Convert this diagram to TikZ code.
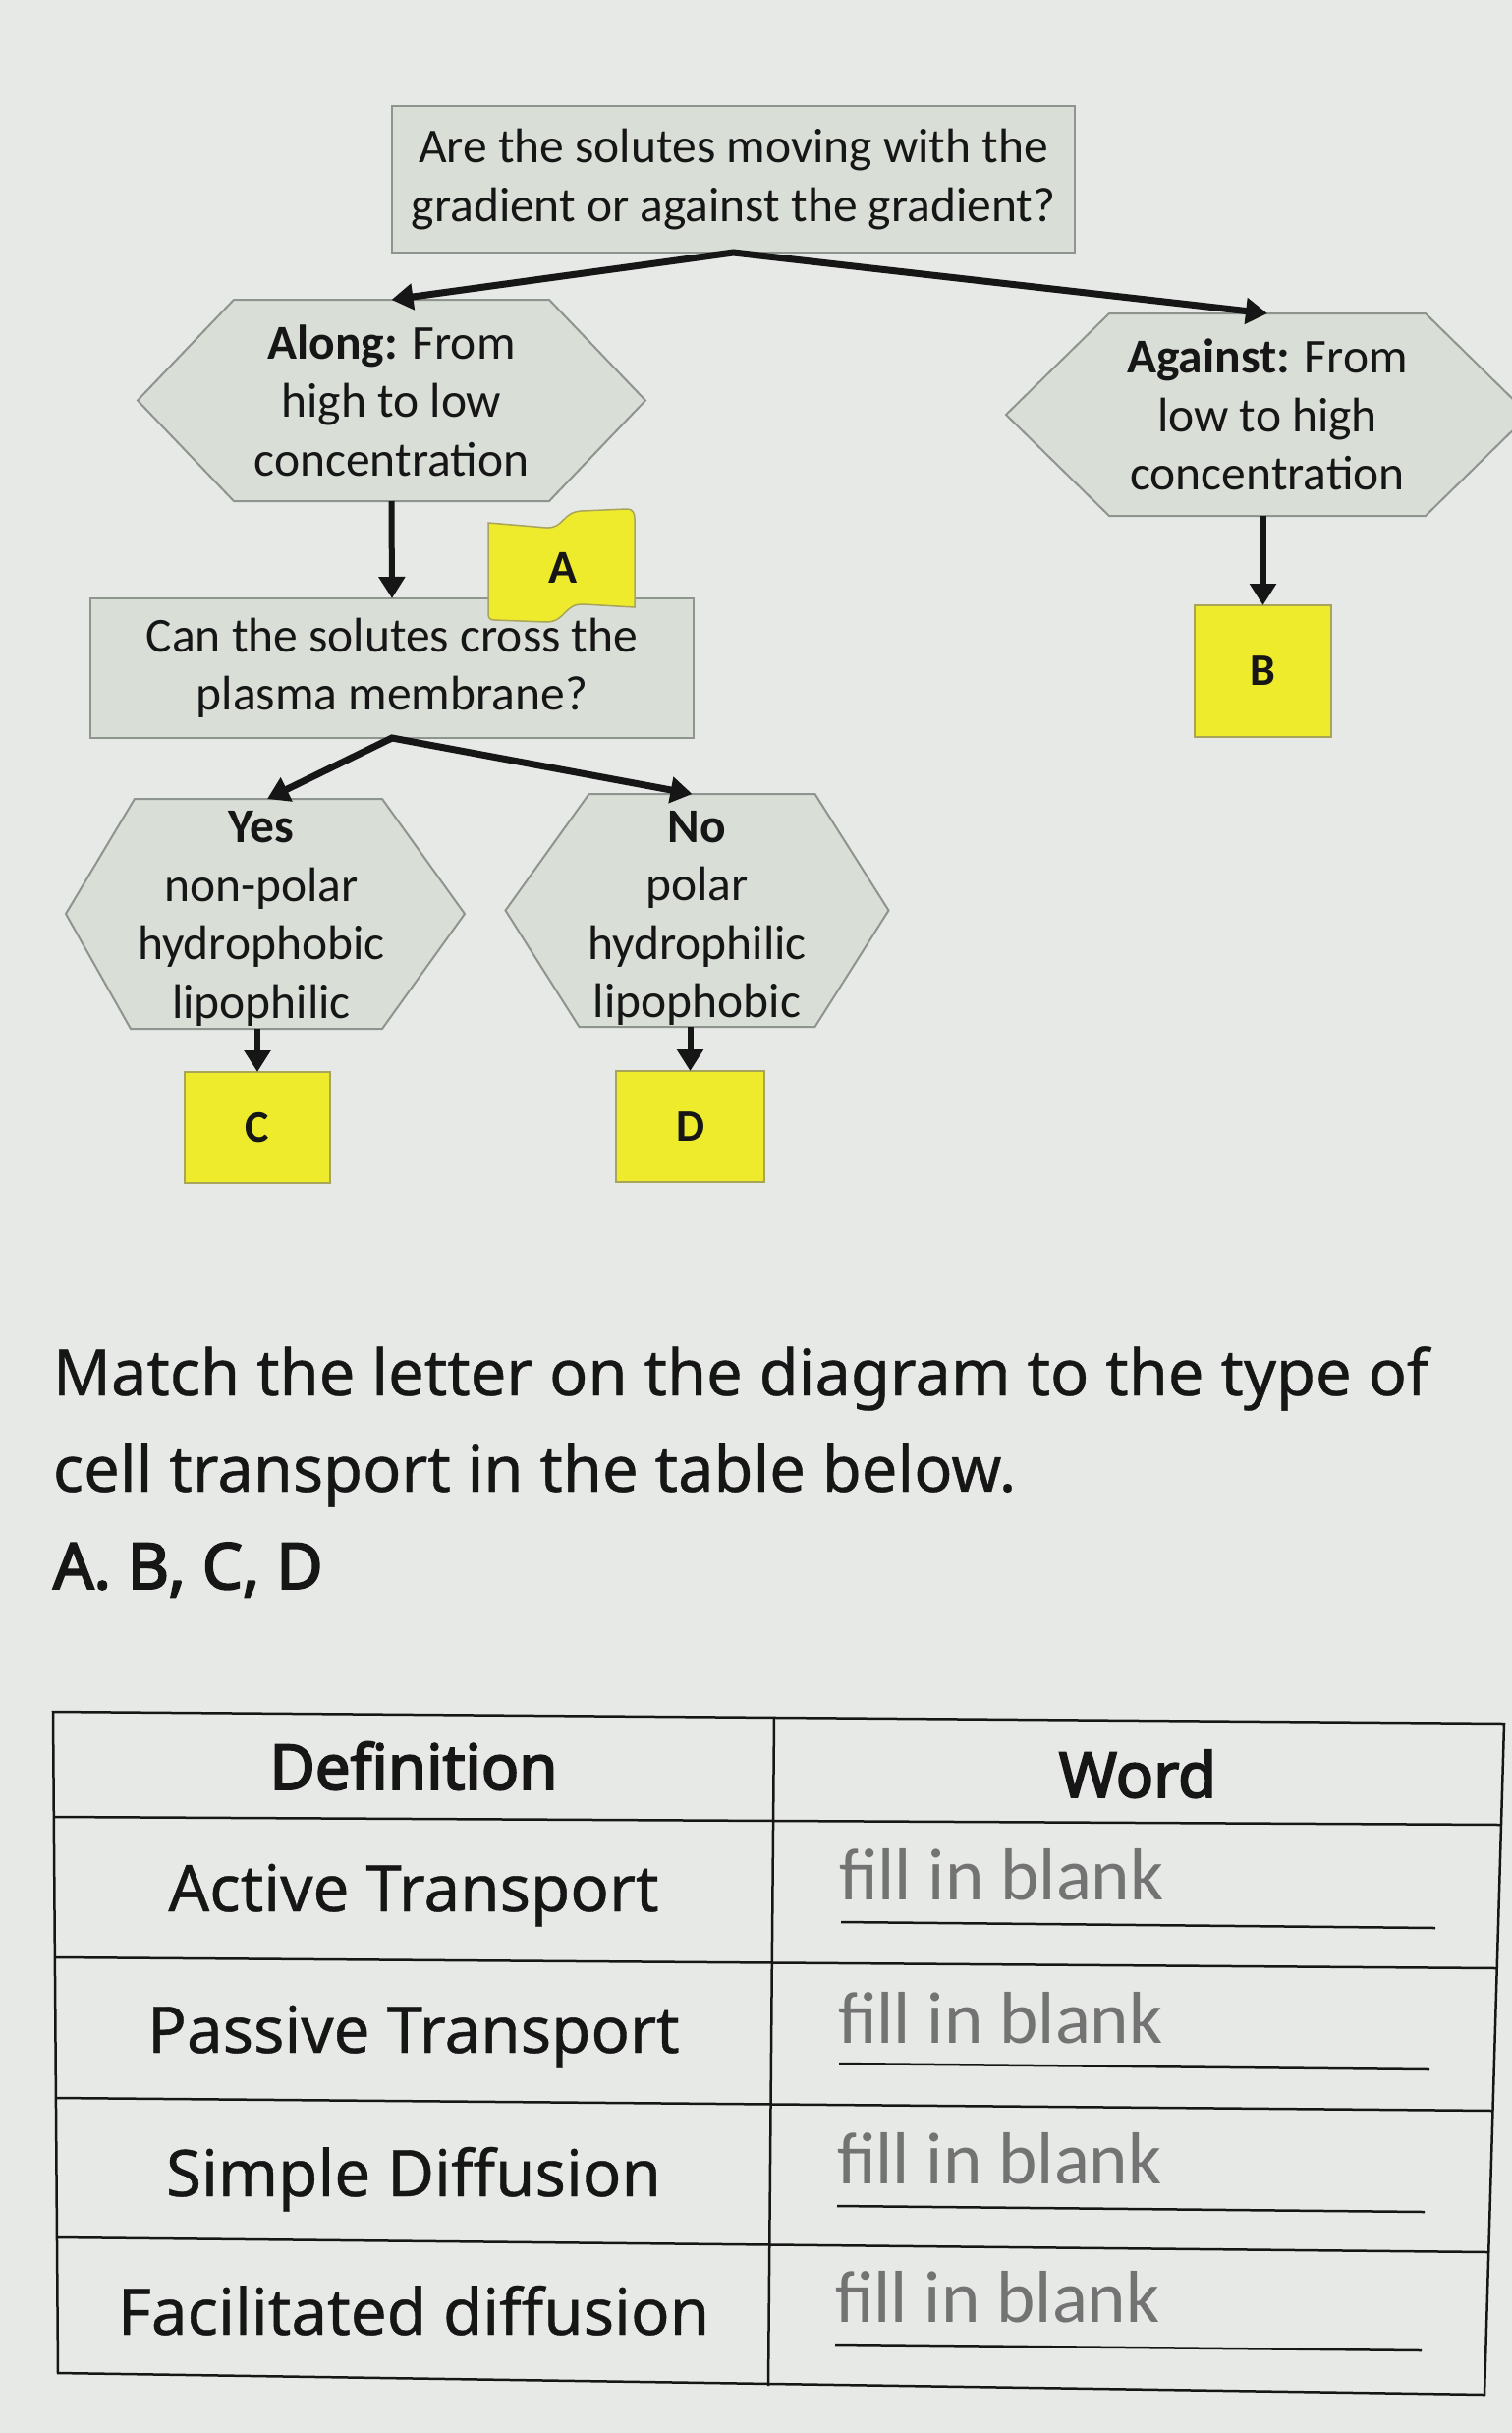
\documentclass[tikz,border=0pt]{standalone}
\usepackage{fontspec}
\setmainfont{Carlito}
\newfontfamily\qfont{Noto Sans}[FakeBold=0.6]
\newfontfamily\qfontbold{Noto Sans}[FakeBold=3]
\usetikzlibrary{arrows.meta,calc}
\definecolor{bg}{HTML}{E7E9E6}
\definecolor{boxfill}{HTML}{D9DED7}
\definecolor{boxline}{HTML}{8E948E}
\definecolor{ylw}{HTML}{EEEB2C}
\definecolor{ylwline}{HTML}{A8A45A}
\definecolor{ink}{HTML}{161616}
\definecolor{blankgray}{HTML}{737373}
\pgfdeclarelayer{bottom}
\pgfdeclarelayer{hex}
\pgfsetlayers{bottom,hex,main}
\begin{document}
\begin{tikzpicture}[x=1pt,y=-1pt,
  every node/.style={inner sep=0pt, outer sep=0pt, text=ink},
  dtext/.style={font=\fontsize{49.5}{59.5}\selectfont, align=center},
  qbox/.style={draw=boxline, fill=boxfill, line width=2pt, dtext},
  hexshape/.style={draw=boxline, fill=boxfill, line width=2pt},
  letterbox/.style={draw=ylwline, fill=ylw, line width=1.5pt, font=\fontsize{46}{46}\selectfont\bfseries},
  flagshape/.style={draw=ylwline, fill=ylw, line width=1.5pt},
  tip/.tip={Triangle[length=22pt,width=26pt]},
  flow/.style={draw=ink, line width=6pt, -tip},
  split/.style={draw=ink, line width=7pt, tip-tip, line join=miter},
  qtext/.style={font=\qfont\fontsize{65}{65}\selectfont},
  tabtext/.style={font=\qfont\fontsize{65.5}{65.5}\selectfont},
  tabhead/.style={font=\qfontbold\fontsize{63.5}{63.5}\selectfont},
  blanktext/.style={font=\fontsize{75}{75}\selectfont, text=blankgray},
  tline/.style={draw=ink, line width=2.5pt},
  uline/.style={draw=ink, line width=2.5pt}
]
\begin{pgfonlayer}{bottom}
\fill[bg] (0,0) rectangle (1539,2476);
\end{pgfonlayer}
\useasboundingbox (0,0) rectangle (1539,2476);

% ---- flowchart nodes ----
\node[qbox, minimum width=695pt, minimum height=149pt] (q1) at (746.5,182.5)
  {Are the solutes moving with the\\gradient or against the gradient?};
\node[dtext, minimum width=517pt, minimum height=205pt] (along) at (398.5,407.5)
  {\textbf{Along:} From\\high to low\\concentration};
\node[dtext, minimum width=532pt, minimum height=206pt] (against) at (1290,422)
  {\textbf{Against:} From\\low to high\\concentration};
\node[qbox, minimum width=614pt, minimum height=142pt] (q2) at (399,680)
  {Can the solutes cross the\\plasma membrane?};
% hexagon frames for Yes / No, with their texts
\node[minimum width=406pt, minimum height=234pt] (yes) at (266,930) {};
\node[dtext] (yestext) at (266,935) {\textbf{Yes}\\non-polar\\hydrophobic\\lipophilic};
\node[minimum width=390pt, minimum height=237pt] (no) at (709.5,926.5) {};
\node[dtext] (notext) at (709.5,934.5) {\textbf{No}\\polar\\hydrophilic\\lipophobic};

\begin{pgfonlayer}{hex}
\draw[hexshape] (along.west) -- ([xshift=98pt]along.north west) -- ([xshift=-98pt]along.north east)
  -- (along.east) -- ([xshift=-98pt]along.south east) -- ([xshift=98pt]along.south west) -- cycle;
\draw[hexshape] (against.west) -- ([xshift=105pt]against.north west) -- ([xshift=-105pt]against.north east)
  -- (against.east) -- ([xshift=-105pt]against.south east) -- ([xshift=105pt]against.south west) -- cycle;
\draw[hexshape] ([xshift=4pt]yes.west) -- ([xshift=74pt]yes.north west) -- ([xshift=-80pt]yes.north east)
  -- ([xshift=4pt]yes.east) -- ([xshift=-80pt]yes.south east) -- ([xshift=70pt]yes.south west) -- cycle;
\draw[hexshape] (no.west) -- ([xshift=85pt]no.north west) -- ([xshift=-75pt]no.north east)
  -- (no.east) -- ([xshift=-75pt]no.south east) -- ([xshift=75pt]no.south west) -- cycle;
\end{pgfonlayer}

% letter boxes
\node[letterbox, minimum width=139pt, minimum height=134pt] (B) at (1285.5,683) {B};
\node[letterbox, minimum width=148pt, minimum height=113pt] (C) at (262,1147.5) {C};
\node[letterbox, minimum width=151pt, minimum height=113pt] (D) at (702.5,1146.5) {D};

% flag A
\draw[flagshape] (497,532) -- (556,537) .. controls (574,538) and (572,521) .. (592,520)
  -- (638,518) .. controls (644,518) and (646,522) .. (646,528) -- (646,618)
  -- (594,615) .. controls (574,614) and (576,633) .. (556,633) -- (503,631)
  .. controls (499,631) and (497,629) .. (497,625) -- cycle;
\node[font=\fontsize{48}{48}\selectfont\bfseries] (A) at (573,578) {A};

% connectors
\draw[split] (along.north) -- (q1.south) -- (against.north);
\draw[flow] (along.south) -- (q2.north);
\draw[flow] (against.south -| B.north) -- (B.north);
\draw[split] ([xshift=6pt]yes.north) -- (q2.south) -- ([xshift=-5pt]no.north);
\draw[flow] (yes.south -| C.north) -- (C.north);
\draw[flow] (no.south -| D.north) -- (D.north);

% question text
\node[qtext, anchor=base west] (m1) at (54,1420) {Match the letter on the diagram to the type of};
\node[qtext, anchor=base west] (m2) at (54,1518) {cell transport in the table below.};
\node[anchor=base west, font=\qfontbold\fontsize{65}{65}\selectfont] (m3) at (54,1617) {A. B, C, D};

% table
\coordinate (tTL) at (54,1742);
\coordinate (tTR) at (1531,1754);
\coordinate (tBL) at (59,2415);
\coordinate (tBR) at (1511,2437);
\coordinate (dT) at (788,1748);
\coordinate (dB) at (782,2428);
\draw[tline] (tTL) -- (tTR) -- (tBR) -- (tBL) -- cycle;
\draw[tline] (dT) -- (dB);
\draw[tline] (55,1849) -- (1528,1857);
\draw[tline] (56,1992) -- (1524,2003);
\draw[tline] (57,2135) -- (1520,2148);
\draw[tline] (58,2277) -- (1515,2292);

\node[tabhead, anchor=base] (h1) at (421,1821) {Definition};
\node[tabhead, anchor=base] (h2) at (1158,1829) {Word};
\node[tabtext, anchor=base] (d1) at (421,1945) {Active Transport};
\node[tabtext, anchor=base] (d2) at (421,2089) {Passive Transport};
\node[tabtext, anchor=base] (d3) at (421,2235) {Simple Diffusion};
\node[tabtext, anchor=base] (d4) at (421,2376) {Facilitated diffusion};

\node[blanktext, anchor=base west] (w1) at (854,1933) {fill in blank};
\node[blanktext, anchor=base west] (w2) at (853,2079) {fill in blank};
\node[blanktext, anchor=base west] (w3) at (852,2222) {fill in blank};
\node[blanktext, anchor=base west] (w4) at (850,2363) {fill in blank};
\draw[uline] (856,1956) -- (1461,1962);
\draw[uline] (854,2100) -- (1455,2106);
\draw[uline] (852,2245) -- (1450,2251);
\draw[uline] (850,2386) -- (1447,2392);
\end{tikzpicture}
\end{document}
